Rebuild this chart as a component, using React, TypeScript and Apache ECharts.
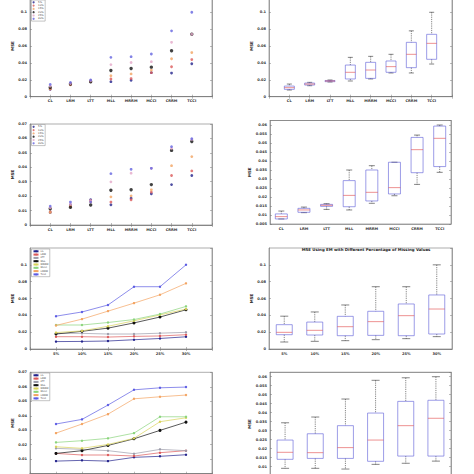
import React, { useEffect, useRef } from 'react';
import * as echarts from 'echarts';

const METHODS = ['CL', 'LRM', 'LTT', 'MLL', 'MRRM', 'MCCI', 'CRRM', 'TCCI'];
const PCTS = ['5%', '10%', '15%', '20%', '25%', '30%'];

// Set A (rows 1 and 3): MSE of each method across missing percentages
const A_CL = [0.0088, 0.009, 0.0095, 0.011, 0.0125, 0.0145];
const A_LRM = [0.0146, 0.0146, 0.0142, 0.015, 0.0155, 0.017];
const A_LTT = [0.0186, 0.0186, 0.0178, 0.0178, 0.0188, 0.0198];
const A_MLL = [0.0178, 0.021, 0.0248, 0.031, 0.038, 0.0466];
const A_MRRM = [0.0195, 0.0215, 0.027, 0.0335, 0.0405, 0.0474];
const A_MCCI = [0.0285, 0.0285, 0.0315, 0.035, 0.0415, 0.0506];
const A_CRRM = [0.028, 0.0355, 0.045, 0.0545, 0.0644, 0.078];
const A_TCCI = [0.039, 0.044, 0.0523, 0.074, 0.074, 0.1];

// Set B (rows 2 and 4)
const B_CL = [0.0087, 0.0092, 0.0087, 0.0113, 0.012, 0.0131];
const B_LRM = [0.014, 0.0129, 0.0129, 0.0122, 0.0145, 0.0159];
const B_LTT = [0.0175, 0.0168, 0.0159, 0.0138, 0.0168, 0.0159];
const B_MLL = [0.014, 0.0159, 0.0195, 0.0241, 0.0299, 0.0356];
const B_MRRM = [0.0186, 0.0175, 0.0202, 0.0244, 0.0359, 0.0386];
const B_MCCI = [0.0216, 0.0228, 0.0244, 0.028, 0.0393, 0.0393];
const B_CRRM = [0.028, 0.0343, 0.0411, 0.0517, 0.0531, 0.0543];
const B_TCCI = [0.0343, 0.0375, 0.0474, 0.0579, 0.0593, 0.0598];

const SET_A = [A_CL, A_LRM, A_LTT, A_MLL, A_MRRM, A_MCCI, A_CRRM, A_TCCI];
const SET_B = [B_CL, B_LRM, B_LTT, B_MLL, B_MRRM, B_MCCI, B_CRRM, B_TCCI];

// Box statistics [low whisker, q1, median, q3, high whisker]
const BOX_A_METHOD = [
  [0.0079, 0.0087, 0.0107, 0.0126, 0.015],
  [0.013, 0.0138, 0.015, 0.0162, 0.017],
  [0.0174, 0.0178, 0.0186, 0.0192, 0.0198],
  [0.0186, 0.021, 0.0289, 0.0375, 0.0466],
  [0.021, 0.0217, 0.0316, 0.0407, 0.0478],
  [0.0281, 0.0289, 0.0356, 0.0423, 0.0502],
  [0.0281, 0.0344, 0.0502, 0.0644, 0.078],
  [0.0387, 0.0443, 0.0632, 0.0739, 0.1],
];
const BOX_B_METHOD = [
  [0.0078, 0.0078, 0.0091, 0.0106, 0.0122],
  [0.0113, 0.0115, 0.0128, 0.0137, 0.0144],
  [0.0131, 0.0148, 0.0154, 0.0159, 0.0163],
  [0.0128, 0.0146, 0.0209, 0.0291, 0.035],
  [0.0165, 0.0178, 0.0226, 0.035, 0.0374],
  [0.0207, 0.0217, 0.0252, 0.0393, 0.0393],
  [0.027, 0.0335, 0.0463, 0.0531, 0.0544],
  [0.0337, 0.0369, 0.0526, 0.0594, 0.06],
];
const BOX_A_PCT = [
  [0.0083, 0.017, 0.0198, 0.0289, 0.039],
  [0.0091, 0.0166, 0.0222, 0.032, 0.044],
  [0.0099, 0.0158, 0.0265, 0.0388, 0.0523],
  [0.0111, 0.0162, 0.0325, 0.0448, 0.074],
  [0.0123, 0.0158, 0.0396, 0.0535, 0.074],
  [0.0147, 0.0178, 0.0475, 0.0642, 0.1],
];
const BOX_B_PCT = [
  [0.0091, 0.0141, 0.018, 0.0248, 0.0344],
  [0.0091, 0.0146, 0.0178, 0.0283, 0.0376],
  [0.0087, 0.0146, 0.0206, 0.0328, 0.0476],
  [0.0113, 0.013, 0.0248, 0.0398, 0.058],
  [0.0119, 0.0159, 0.0328, 0.0463, 0.0594],
  [0.0131, 0.0159, 0.0369, 0.0469, 0.06],
];

const METHOD_COLORS = ['#23238c', '#dc5a5a', '#9c9cab', '#111111', '#d9d35a', '#8bd47c', '#f3a462', '#5b5be3'];
const PCT_COLORS = ['#23238c', '#dc5a5a', '#f3a462', '#111111', '#e3a8c8', '#6464e0'];

const TITLE6 = 'MSE Using EM with Different Percentage of Missing Values';

const GRIDS = [
  { left: 30, top: -4.6, width: 182, height: 101.3 },
  { left: 269, top: -4.6, width: 183, height: 101.3 },
  { left: 30, top: 124, width: 182, height: 101 },
  { left: 270, top: 120.5, width: 181, height: 103.5 },
  { left: 30, top: 248, width: 182, height: 101 },
  { left: 269, top: 248, width: 183, height: 101 },
  { left: 30, top: 372.3, width: 182, height: 101.4 },
  { left: 270, top: 372.2, width: 181, height: 103.5 },
];

const Y_RANGES = [
  { min: 0, max: 0.12, interval: 0.02 },
  { min: 0, max: 0.12, interval: 0.02 },
  { min: 0, max: 0.07, interval: 0.01 },
  { min: 0.005, max: 0.0625, interval: 0.005 },
  { min: 0, max: 0.12, interval: 0.02 },
  { min: 0, max: 0.12, interval: 0.02 },
  { min: 0, max: 0.07, interval: 0.01 },
  { min: 0.005, max: 0.0625, interval: 0.005 },
];

const padded = (arr: string[]) => ['', ...arr, ''];
const X_CATS = [
  { data: padded(METHODS), gap: false },
  { data: padded(METHODS), gap: false },
  { data: padded(METHODS), gap: false },
  { data: METHODS, gap: true },
  { data: padded(PCTS), gap: false },
  { data: PCTS, gap: true },
  { data: padded(PCTS), gap: false },
  { data: PCTS, gap: true },
];

const AXIS_COLOR = '#777';
const LABEL_STYLE = { fontSize: 3.6, color: '#333', fontFamily: 'DejaVu Sans', fontWeight: 'bold' as const };

function boxSeries(g: number, stats: number[][], offset: number, bw: number) {
  return {
    type: 'custom',
    xAxisIndex: 2 * g,
    yAxisIndex: 2 * g,
    data: stats.map((s, i) => [i + offset, ...s]),
    encode: { x: 0, y: [1, 2, 3, 4, 5] },
    renderItem: (_params: any, api: any) => {
      const x = api.value(0);
      const lo = api.coord([x, api.value(1)]);
      const q1 = api.coord([x, api.value(2)]);
      const md = api.coord([x, api.value(3)]);
      const q3 = api.coord([x, api.value(4)]);
      const hi = api.coord([x, api.value(5)]);
      const cx = lo[0];
      const hw = bw / 2;
      const cw = bw / 4;
      const lw = 0.6;
      return {
        type: 'group',
        children: [
          { type: 'line', shape: { x1: cx, y1: hi[1], x2: cx, y2: q3[1] }, style: { stroke: '#333', lineWidth: lw, lineDash: [1.2, 1] } },
          { type: 'line', shape: { x1: cx, y1: q1[1], x2: cx, y2: lo[1] }, style: { stroke: '#333', lineWidth: lw, lineDash: [1.2, 1] } },
          { type: 'line', shape: { x1: cx - cw, y1: hi[1], x2: cx + cw, y2: hi[1] }, style: { stroke: '#333', lineWidth: lw } },
          { type: 'line', shape: { x1: cx - cw, y1: lo[1], x2: cx + cw, y2: lo[1] }, style: { stroke: '#333', lineWidth: lw } },
          { type: 'rect', shape: { x: cx - hw, y: q3[1], width: bw, height: Math.max(q1[1] - q3[1], 0.8) }, style: { fill: 'none', stroke: '#5b5bd6', lineWidth: lw } },
          { type: 'line', shape: { x1: cx - hw, y1: md[1], x2: cx + hw, y2: md[1] }, style: { stroke: '#e04848', lineWidth: lw } },
        ],
      };
    },
  };
}

function scatterSeries(g: number, set: number[][]) {
  return PCTS.map((p, j) => ({
    type: 'scatter',
    name: p,
    xAxisIndex: 2 * g,
    yAxisIndex: 2 * g,
    symbol: 'circle',
    symbolSize: j === 3 ? 3.4 : 2.8,
    itemStyle: { color: PCT_COLORS[j] },
    data: METHODS.map((_m, i) => [i + 1, set[i][j]]),
  }));
}

function lineSeries(g: number, set: number[][]) {
  return METHODS.map((m, i) => ({
    type: 'line',
    name: m,
    xAxisIndex: 2 * g,
    yAxisIndex: 2 * g,
    symbol: 'circle',
    symbolSize: i === 3 ? 3 : 2.4,
    lineStyle: { color: METHOD_COLORS[i], width: 0.7 },
    itemStyle: { color: METHOD_COLORS[i] },
    data: PCTS.map((_p, j) => [j + 1, set[i][j]]),
  }));
}

function legendAt(left: number, top: number, names: string[]) {
  return {
    orient: 'vertical',
    left,
    top,
    data: names,
    backgroundColor: '#fff',
    borderColor: '#888',
    borderWidth: 0.5,
    padding: [0.8, 1.5, 0.8, 1],
    itemGap: 0.3,
    itemWidth: 5,
    itemHeight: 2.2,
    textStyle: { fontSize: 2.5, color: '#333', fontFamily: 'DejaVu Sans', lineHeight: 2.7, padding: [0, 0, 0, -3] },
  };
}

const fmt = (v: number) => String(+v.toFixed(4));

export default function App() {
  const ref = useRef<HTMLDivElement>(null);
  useEffect(() => {
    if (!ref.current) return;
    const chart = echarts.init(ref.current, undefined, { renderer: 'svg' });
    const xAxis: any[] = [];
    const yAxis: any[] = [];
    GRIDS.forEach((_g, gi) => {
      const xc = X_CATS[gi];
      const bottomRow = gi >= 6;
      const base = {
        type: 'category',
        gridIndex: gi,
        data: xc.data,
        boundaryGap: xc.gap,
        axisLine: { lineStyle: { color: AXIS_COLOR, width: 0.6 } },
        axisTick: { inside: true, length: 2, alignWithLabel: true, interval: 0, lineStyle: { color: AXIS_COLOR, width: 0.5 } },
        splitLine: { show: false },
      };
      xAxis.push({ ...base, position: 'bottom', axisLabel: { ...LABEL_STYLE, margin: 2.5, interval: 0, show: !bottomRow } });
      xAxis.push({ ...base, position: 'top', axisLabel: { show: false } });
      const yr = Y_RANGES[gi];
      const ybase = {
        type: 'value',
        gridIndex: gi,
        min: yr.min,
        max: yr.max,
        interval: yr.interval,
        axisLine: { show: true, lineStyle: { color: AXIS_COLOR, width: 0.6 } },
        axisTick: { show: true, inside: true, length: 2, lineStyle: { color: AXIS_COLOR, width: 0.5 } },
        splitLine: { show: false },
      };
      yAxis.push({
        ...ybase,
        position: 'left',
        name: 'MSE',
        nameLocation: 'middle',
        nameRotate: 90,
        nameGap: gi % 2 === 0 ? 9.5 : 11,
        nameTextStyle: { fontSize: 4, fontWeight: 'bold', color: '#222', fontFamily: 'DejaVu Sans' },
        axisLabel: {
          ...LABEL_STYLE,
          margin: 3,
          formatter: fmt,
          showMaxLabel: yr.max === 0.07,
          showMinLabel: !bottomRow,
        },
      });
      yAxis.push({ ...ybase, position: 'right', axisLabel: { show: false } });
    });

    const series: any[] = [
      ...scatterSeries(0, SET_A),
      boxSeries(1, BOX_A_METHOD, 1, 10),
      ...scatterSeries(2, SET_B),
      boxSeries(3, BOX_B_METHOD, 0, 12),
      ...lineSeries(4, SET_A),
      boxSeries(5, BOX_A_PCT, 0, 16),
      ...lineSeries(6, SET_B),
      boxSeries(7, BOX_B_PCT, 0, 16),
    ];

    chart.setOption({
      animation: false,
      backgroundColor: '#fff',
      title: [
        {
          text: TITLE6,
          left: 361,
          top: 242.5,
          textAlign: 'center',
          textStyle: { fontSize: 3.9, fontWeight: 'bold', color: '#222', fontFamily: 'DejaVu Sans' },
        },
      ],
      legend: [
        legendAt(31.5, 0, PCTS),
        legendAt(31.5, 124.5, PCTS),
        legendAt(31.5, 249, METHODS),
        legendAt(31.5, 373, METHODS),
      ],
      grid: GRIDS.map((g) => ({
        ...g,
        show: true,
        borderColor: AXIS_COLOR,
        borderWidth: 0.6,
        backgroundColor: 'transparent',
        containLabel: false,
        outerBoundsMode: 'none',
      })),
      xAxis,
      yAxis,
      series,
    });
    return () => chart.dispose();
  }, []);
  return (
    <div
      ref={ref}
      style={{ position: 'fixed', left: 0, top: 0, width: 474, height: 474, background: '#fff' }}
    />
  );
}
